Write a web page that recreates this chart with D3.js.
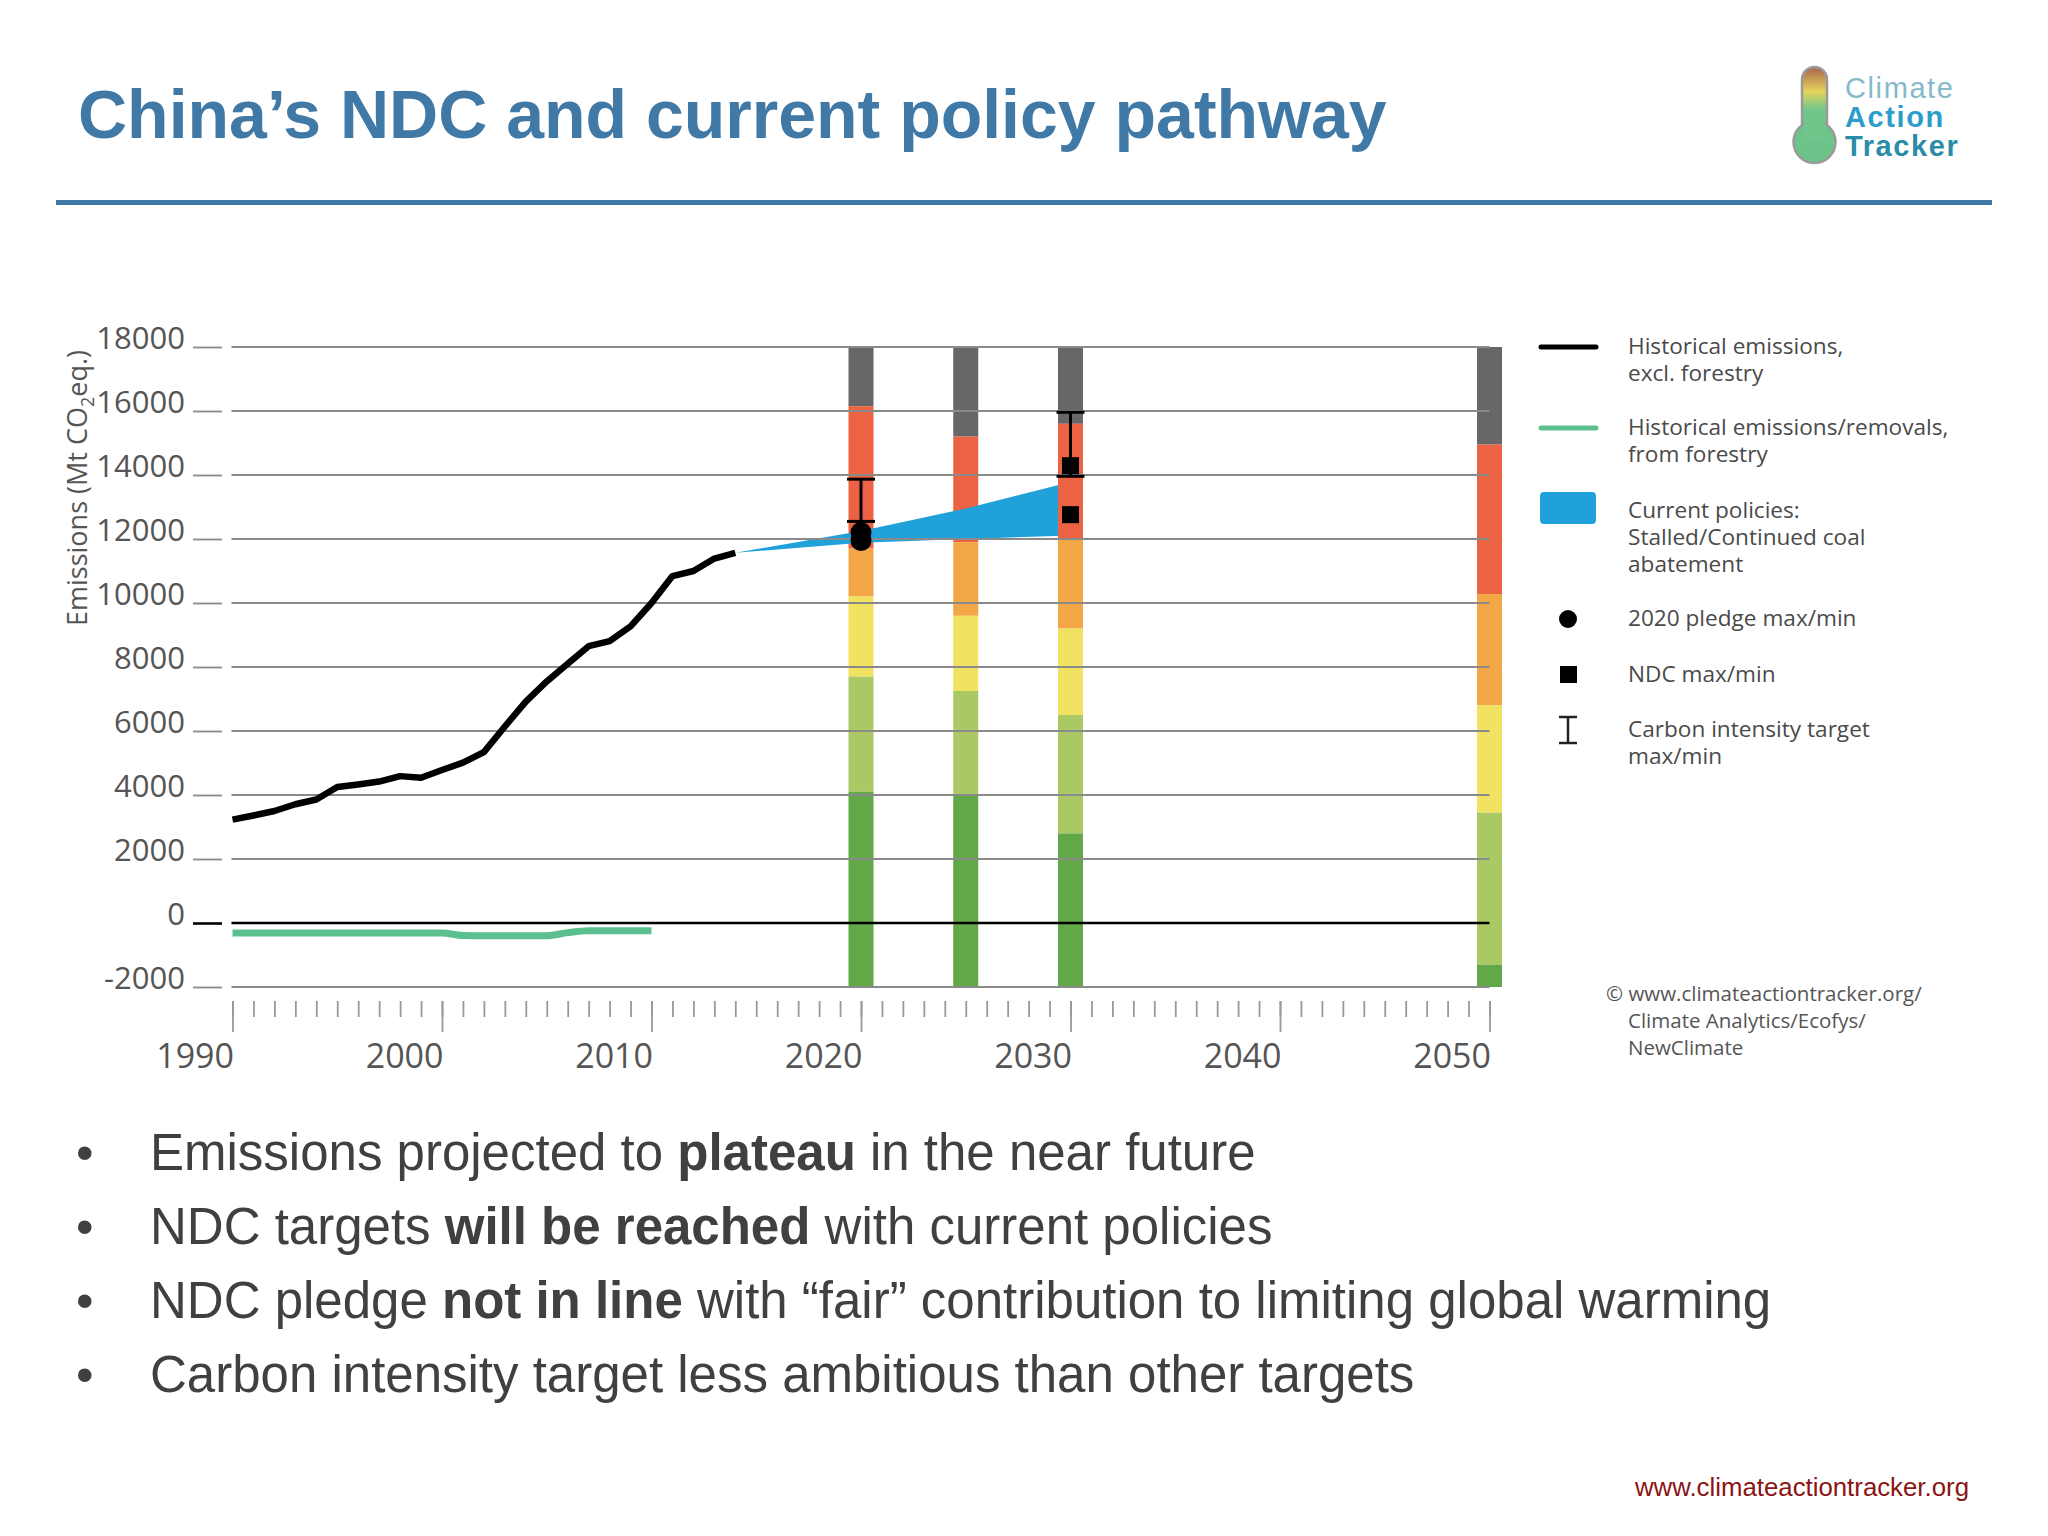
<!DOCTYPE html>
<html>
<head>
<meta charset="utf-8">
<script src="https://cdn.jsdelivr.net/npm/d3@7"></script>
<style>
  body { margin: 0; background: #fff; }
  svg { display: block; }
</style>
</head>
<body>
<div id="canvas"></div>
<script>
// Historical emissions excl. forestry (Mt CO2eq).
const histYears = [1990, 1991, 1992, 1993, 1994, 1995, 1996, 1997, 1998, 1999, 2000, 2001,
                   2002, 2003, 2004, 2005, 2006, 2007, 2008, 2009, 2010, 2011, 2012, 2013, 2014];
const histEmissions = [3230, 3360, 3500, 3710, 3860, 4250, 4330, 4420, 4590, 4540, 4780, 5010,
                       5340, 6140, 6920, 7550, 8100, 8650, 8810, 9270, 10000, 10840, 11000, 11390, 11570];

// Historical emissions/removals from forestry.
const forestYears = [1990, 1991, 1992, 1993, 1994, 1995, 1996, 1997, 1998, 1999, 2000,
                     2001, 2002, 2003, 2004, 2005, 2006, 2007, 2008, 2009, 2010];
const forestValues = [-310, -310, -310, -310, -310, -310, -310, -310, -310, -310, -310,
                      -390, -400, -400, -400, -400, -300, -240, -240, -240, -240];

// Current policy range (upper / lower edge).
const policyYears = [2014, 2020, 2025, 2030];
const policyUpper = [11570, 12250, 12950, 13780];
const policyLower = [11570, 11880, 12000, 12110];

// Rating bars: band boundaries from top to bottom.
const barYears = [2020, 2025, 2030, 2050];
const barBounds = [
    [18000, 16150, 11700, 10200, 7700, 4100, -2000],
    [18000, 15200, 11900, 9600, 7250, 4000, -2000],
    [18000, 15600, 12000, 9200, 6500, 2800, -2000],
    [18000, 14950, 10280, 6800, 3450, -1300, -2000]
];
const bandColors = ["#676767", "#ec6343", "#f2a646", "#f2e262", "#aac964", "#62a748"];

// Pledges and targets.
const pledge2020 = [12200, 11950];
const ndc2030 = [14290, 12760];
const intensityYears = [2020, 2030];
const intensityMax = [13870, 15960];
const intensityMin = [12550, 13960];

// Axis ticks.
const yTicks = [-2000, 0, 2000, 4000, 6000, 8000, 10000, 12000, 14000, 16000, 18000];
const xMajor = [1990, 2000, 2010, 2020, 2030, 2040, 2050];

const bullets = [
    [["Emissions projected to ", false], ["plateau", true], [" in the near future", false]],
    [["NDC targets ", false], ["will be reached", true], [" with current policies", false]],
    [["NDC pledge ", false], ["not in line", true], [" with \u201cfair\u201d contribution to limiting global warming", false]],
    [["Carbon intensity target less ambitious than other targets", false]]
];

const legendItems = [
    { type: "line", color: "#000", lines: ["Historical emissions,", "excl. forestry"] },
    { type: "line", color: "#5cbf8f", lines: ["Historical emissions/removals,", "from forestry"] },
    { type: "rect", color: "#21a1d9", lines: ["Current policies:", "Stalled/Continued coal", "abatement"] },
    { type: "circle", lines: ["2020 pledge max/min"] },
    { type: "square", lines: ["NDC max/min"] },
    { type: "ibeam", lines: ["Carbon intensity target", "max/min"] }
];
const legendY = [346, 427, 510, 618, 674, 729];

const W = 2048, H = 1536;
const blue = "#4179a6";
const chartFont = "'Open Sans', sans-serif";
const slideFont = "'Liberation Sans', Arial, sans-serif";

const svg = d3.select("#canvas").append("svg")
    .attr("width", W).attr("height", H);
svg.append("rect").attr("width", W).attr("height", H).attr("fill", "#fff");

// Title and rule.
svg.append("text")
    .attr("x", 78).attr("y", 138)
    .attr("font-family", slideFont)
    .attr("font-weight", "bold").attr("font-size", 68)
    .attr("fill", blue)
    .text("China\u2019s NDC and current policy pathway");
svg.append("rect").attr("x", 56).attr("y", 200).attr("width", 1936).attr("height", 5).attr("fill", blue);

// Logo.
const logo = svg.append("g");
const grad = svg.append("defs").append("linearGradient")
    .attr("id", "thermo").attr("x1", 0).attr("y1", 0).attr("x2", 0).attr("y2", 1);
grad.append("stop").attr("offset", "0%").attr("stop-color", "#a8644e");
grad.append("stop").attr("offset", "35%").attr("stop-color", "#e6d35c");
grad.append("stop").attr("offset", "60%").attr("stop-color", "#74c78c");
grad.append("stop").attr("offset", "100%").attr("stop-color", "#6cc48a");
logo.append("rect").attr("x", 1802).attr("y", 67).attr("width", 25).attr("height", 70).attr("rx", 12.5)
    .attr("fill", "url(#thermo)").attr("stroke", "#9a9a9a").attr("stroke-width", 2.5);
logo.append("circle").attr("cx", 1814.5).attr("cy", 142).attr("r", 21)
    .attr("fill", "#6cc48a").attr("stroke", "#9a9a9a").attr("stroke-width", 2.5);
logo.append("rect").attr("x", 1804.5).attr("y", 110).attr("width", 20).attr("height", 30).attr("fill", "#70c58b");
const logoText = [["Climate", "#86b9c9", 400, 98], ["Action", "#2c9dcb", 600, 127], ["Tracker", "#2a8ca6", 600, 156]];
logo.selectAll("text.logo").data(logoText).join("text")
    .attr("x", 1845).attr("y", d => d[3])
    .attr("font-family", slideFont).attr("font-size", 29)
    .attr("letter-spacing", 1.6)
    .attr("font-weight", d => d[2]).attr("fill", d => d[1])
    .text(d => d[0]);

// Scales.
const x = d3.scaleLinear().domain([1990, 2050]).range([232.5, 1489.5]);
const y = d3.scaleLinear().domain([-2000, 18000]).range([987, 347]);
const barW = 25;

// Bars and the current policy wedge share one layer so the 2030 bar can sit above the wedge.
const plot = svg.append("g");
const bars = plot.selectAll("g.bar")
    .data(barYears.map((yr, i) => ({ year: yr, bounds: barBounds[i] })))
    .join("g").attr("class", "bar");
bars.selectAll("rect")
    .data(d => bandColors.map((c, j) => ({ year: d.year, top: d.bounds[j], bottom: d.bounds[j + 1], color: c })))
    .join("rect")
    .attr("x", d => x(d.year) - barW / 2)
    .attr("width", barW)
    .attr("y", d => y(d.top))
    .attr("height", d => y(d.bottom) - y(d.top))
    .attr("fill", d => d.color);

const area = d3.area()
    .x((d, i) => x(policyYears[i]))
    .y0((d, i) => y(policyLower[i]))
    .y1((d, i) => y(policyUpper[i]));
plot.append("path").datum(policyYears).attr("d", area).attr("fill", "#21a1d9");
bars.filter(d => d.year === 2030).raise();

// Y axis with gridlines.
const grid = svg.append("g");
grid.selectAll("line").data(yTicks).join("line")
    .attr("x1", x(1990) - 1).attr("x2", x(2050))
    .attr("y1", d => y(d)).attr("y2", d => y(d))
    .attr("stroke", d => d === 0 ? "#000" : "#8a8a8a")
    .attr("stroke-width", d => d === 0 ? 2.6 : 1.8);

const yAxis = svg.append("g")
    .attr("transform", "translate(222,0)")
    .call(d3.axisLeft(y).tickValues(yTicks).tickSize(29).tickPadding(8).tickFormat(d => String(d)));
yAxis.select(".domain").remove();
yAxis.selectAll(".tick line")
    .attr("stroke", d => d === 0 ? "#000" : "#8a8a8a")
    .attr("stroke-width", d => d === 0 ? 2.6 : 1.8);
yAxis.selectAll(".tick text")
    .attr("font-family", chartFont).attr("font-size", 31).attr("fill", "#555")
    .attr("dy", "0.04em");

svg.append("text")
    .attr("transform", "translate(87,488) rotate(-90)")
    .attr("text-anchor", "middle")
    .attr("font-family", chartFont).attr("font-size", 27).attr("fill", "#555")
    .call(t => {
        t.append("tspan").text("Emissions (Mt CO");
        t.append("tspan").attr("font-size", 18).attr("dy", 7).text("2");
        t.append("tspan").attr("dy", -7).text("eq.)");
    });

// X axis: minor and major ticks.
const xMinor = svg.append("g").attr("transform", "translate(0,1001)")
    .call(d3.axisBottom(x).ticks(60).tickSize(16).tickFormat(""));
const xAxis = svg.append("g").attr("transform", "translate(0,1001)")
    .call(d3.axisBottom(x).tickValues(xMajor).tickSize(31).tickPadding(12).tickFormat(d => String(d)));
[xMinor, xAxis].forEach(a => {
    a.select(".domain").remove();
    a.selectAll(".tick line").attr("stroke", "#999").attr("stroke-width", 1.8);
});
xAxis.selectAll(".tick text")
    .attr("text-anchor", "end").attr("x", 1)
    .attr("font-family", chartFont).attr("font-size", 34).attr("fill", "#555");

// Historical lines.
svg.append("path").datum(forestYears)
    .attr("d", d3.line().curve(d3.curveMonotoneX).x(d => x(d)).y((d, i) => y(forestValues[i])))
    .attr("fill", "none").attr("stroke", "#5cbf8f").attr("stroke-width", 7);
svg.append("path").datum(histYears)
    .attr("d", d3.line().x(d => x(d)).y((d, i) => y(histEmissions[i])))
    .attr("fill", "none").attr("stroke", "#000").attr("stroke-width", 6.5)
    .attr("stroke-linejoin", "round");

// Carbon intensity target bars.
const ibeam = svg.append("g").selectAll("g").data(intensityYears).join("g");
ibeam.append("line")
    .attr("x1", d => x(d)).attr("x2", d => x(d))
    .attr("y1", (d, i) => y(intensityMax[i])).attr("y2", (d, i) => y(intensityMin[i]))
    .attr("stroke", "#000").attr("stroke-width", 3);
[intensityMax, intensityMin].forEach(v => {
    ibeam.append("line")
        .attr("x1", d => x(d) - 14).attr("x2", d => x(d) + 14)
        .attr("y1", (d, i) => y(v[i])).attr("y2", (d, i) => y(v[i]))
        .attr("stroke", "#000").attr("stroke-width", 3);
});

// 2020 pledge and NDC markers.
svg.append("g").selectAll("circle").data(pledge2020).join("circle")
    .attr("cx", x(2020)).attr("cy", d => y(d)).attr("r", 10.5).attr("fill", "#000");
svg.append("g").selectAll("rect").data(ndc2030).join("rect")
    .attr("x", x(2030) - 8.5).attr("y", d => y(d) - 8.5)
    .attr("width", 17).attr("height", 17).attr("fill", "#000");

// Legend.
const leg = svg.append("g").selectAll("g").data(legendItems).join("g")
    .attr("transform", (d, i) => `translate(0,${legendY[i]})`);
leg.each(function (d) {
    const g = d3.select(this);
    if (d.type === "line") {
        g.append("line").attr("x1", 1541).attr("x2", 1596).attr("y1", 1).attr("y2", 1)
            .attr("stroke", d.color).attr("stroke-width", 5).attr("stroke-linecap", "round");
    } else if (d.type === "rect") {
        g.append("rect").attr("x", 1540).attr("y", -18).attr("width", 56).attr("height", 32)
            .attr("rx", 4).attr("fill", d.color);
    } else if (d.type === "circle") {
        g.append("circle").attr("cx", 1568).attr("cy", 1).attr("r", 9).attr("fill", "#000");
    } else if (d.type === "square") {
        g.append("rect").attr("x", 1560).attr("y", -8).attr("width", 17).attr("height", 17).attr("fill", "#000");
    } else {
        g.append("line").attr("x1", 1568).attr("x2", 1568).attr("y1", -12).attr("y2", 14)
            .attr("stroke", "#222").attr("stroke-width", 2.5);
        [-12, 14].forEach(v => g.append("line").attr("x1", 1559).attr("x2", 1577)
            .attr("y1", v).attr("y2", v).attr("stroke", "#222").attr("stroke-width", 2.5));
    }
    g.selectAll("text").data(d.lines).join("text")
        .attr("x", 1628).attr("y", (t, k) => k * 27 + 8)
        .attr("font-family", chartFont).attr("font-size", 22.6).attr("fill", "#4a4a4a")
        .text(t => t);
});

// Source note.
const credits = ["\u00a9 www.climateactiontracker.org/", "Climate Analytics/Ecofys/", "NewClimate"];
svg.append("g").selectAll("text").data(credits).join("text")
    .attr("x", (d, i) => i === 0 ? 1606 : 1628).attr("y", (d, i) => 1001 + i * 27)
    .attr("font-family", chartFont).attr("font-size", 20.5).attr("fill", "#555")
    .text(d => d);

// Bullet points.
const bl = svg.append("g").selectAll("g").data(bullets).join("g")
    .attr("transform", (d, i) => `translate(0,${1170 + i * 74})`);
bl.append("text").attr("x", 76).attr("font-family", slideFont)
    .attr("font-size", 50).attr("fill", "#404040").text("\u2022");
bl.append("text").attr("x", 150)
    .attr("font-family", slideFont)
    .attr("font-size", 51).attr("fill", "#404040")
    .selectAll("tspan").data(d => d).join("tspan")
    .attr("font-weight", d => d[1] ? "bold" : "normal")
    .text(d => d[0]);

// Footer URL.
svg.append("text")
    .attr("x", 1969).attr("y", 1496).attr("text-anchor", "end")
    .attr("font-family", slideFont)
    .attr("font-size", 25.8).attr("fill", "#8b1414")
    .text("www.climateactiontracker.org");
</script>
</body>
</html>
